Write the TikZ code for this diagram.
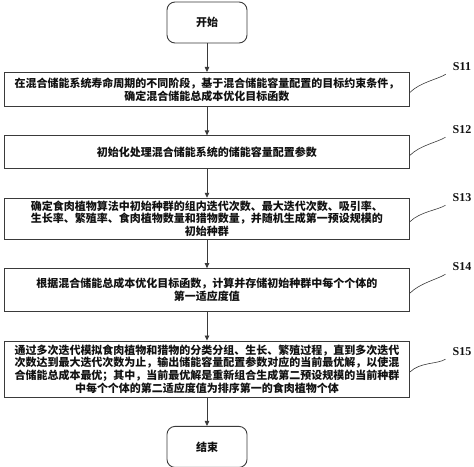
\documentclass[tikz,border=0pt]{standalone}
\usepackage{fontspec}
\newfontfamily\cjk{Noto Sans CJK SC}
\newfontfamily\tagfont{Liberation Serif}
\usepackage{xcolor}
\definecolor{cLine}{HTML}{3A3A3A}
\definecolor{cText}{HTML}{111111}
\usepackage{tikz}
\usetikzlibrary{positioning,arrows.meta}
\tikzset{
  node-term/.style={draw=cLine,line width=0.9pt,rounded corners=8pt,
    minimum width=80pt,minimum height=41pt,align=center,
    font=\cjk\bfseries\fontsize{11}{12.8}\selectfont,text=cText},
  node-step/.style={draw=cLine,line width=0.9pt,minimum width=405pt,
    text width=397pt,inner sep=4pt,align=center,
    font=\cjk\bfseries\fontsize{11}{12.8}\selectfont,text=cText},
  node-tag/.style={inner sep=3pt,font=\tagfont\bfseries\fontsize{12}{14}\selectfont,text=cText},
  arrow/.style={-{Triangle[length=5pt,width=4.5pt]},line width=0.8pt,draw=cLine},
  tag-line/.style={line width=0.6pt,draw=cLine},
}
\begin{document}
\begin{tikzpicture}[node distance=28.5pt]
  \useasboundingbox (0,0) rectangle (474pt,-466pt);
  \node[node-term] (start) at (207pt,-22.5pt) {开始};
  \node[node-step,below=of start,minimum height=34pt] (s11)
    {在混合储能系统寿命周期的不同阶段，基于混合储能容量配置的目标约束条件，\\确定混合储能总成本优化目标函数};
  \node[node-step,below=of s11,minimum height=33pt] (s12)
    {初始化处理混合储能系统的储能容量配置参数};
  \node[node-step,below=of s12,minimum height=41pt,inner sep=1pt] (s13)
    {确定食肉植物算法中初始种群的组内迭代次数、最大迭代次数、吸引率、\\生长率、繁殖率、食肉植物数量和猎物数量，并随机生成第一预设规模的\\初始种群};
  \node[node-step,below=of s13,minimum height=43pt] (s14)
    {根据混合储能总成本优化目标函数，计算并存储初始种群中每个个体的\\第一适应度值};
  \node[node-step,below=of s14,minimum height=56pt,inner sep=1pt] (s15)
    {通过多次迭代模拟食肉植物和猎物的分类分组、生长、繁殖过程，直到多次迭代\\次数达到最大迭代次数为止，输出储能容量配置参数对应的当前最优解，以使混\\合储能总成本最优；其中，当前最优解是重新组合生成第二预设规模的当前种群\\中每个个体的第二适应度值为排序第一的食肉植物个体};
  \node[node-term,below=of s15] (end) {结束};
  % step tags
  \node[node-tag] (t11) at (462pt,-67pt) {S11};
  \node[node-tag] (t12) at (462pt,-130pt) {S12};
  \node[node-tag] (t13) at (462pt,-198pt) {S13};
  \node[node-tag] (t14) at (462pt,-267pt) {S14};
  \node[node-tag] (t15) at (462pt,-352pt) {S15};
  \draw[arrow] (start) -- (s11);
  \draw[arrow] (s11) -- (s12);
  \draw[arrow] (s12) -- (s13);
  \draw[arrow] (s13) -- (s14);
  \draw[arrow] (s14) -- (s15);
  \draw[arrow] (s15) -- (end);
  \foreach \s in {11,12,13,14,15}
    \draw[tag-line] ([yshift=-3pt]s\s.east) .. controls +(10pt,10pt) and +(-8pt,-5pt) .. ([xshift=-4pt]t\s.south west);
\end{tikzpicture}
\end{document}
